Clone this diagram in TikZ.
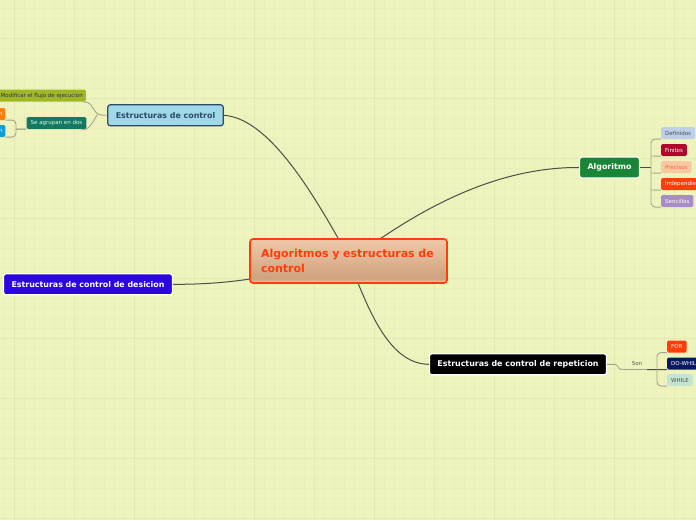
\documentclass[tikz,border=0pt]{standalone}
\usepackage{fontspec}
\setmainfont{DejaVu Sans}
\usepackage{tikz}
\definecolor{paper}{HTML}{EFF3BE}
\definecolor{gridline}{HTML}{EAEEB8}
\definecolor{gridmajor}{HTML}{E4E8B4}
\definecolor{wire}{HTML}{4A4F48}
\definecolor{twig}{HTML}{A3A68C}
\definecolor{rootlight}{HTML}{F0C8A8}
\definecolor{rootdark}{HTML}{CFA27E}
\definecolor{rootred}{HTML}{FF3D0A}
\definecolor{ctrlblue}{HTML}{9FD8E8}
\definecolor{ctrlink}{HTML}{2C4A66}
\pgfdeclareverticalshading{rootshade}{100bp}{color(0bp)=(rootlight); color(25bp)=(rootlight);
  color(30bp)=(rootdark); color(75bp)=(rootlight); color(100bp)=(rootlight)}

\begin{document}
\begin{tikzpicture}
  [x=1pt,y=-1pt,
   main/.style={rounded corners=2.5pt,draw=white,line width=1.2pt,inner xsep=8pt,
     inner ysep=0pt,minimum height=21pt,text=white,font=\fontsize{7.9}{10}\selectfont\bfseries},
   leaf/.style={rounded corners=1.5pt,inner xsep=4pt,inner ysep=0pt,minimum height=12pt,
     anchor=west,font=\fontsize{5.5}{6}\selectfont},
   wired/.style={wire,line width=1pt},
   twiggy/.style={twig,line width=.9pt,rounded corners=4pt},
  ]
  \useasboundingbox (0,0) rectangle (696,520);
  \fill[paper] (0,0) rectangle (696,520);
  \foreach \gx in {4,14,...,694} \draw[gridline,line width=.7pt] (\gx,0) -- (\gx,520);
  \foreach \gy in {8,18,...,518} \draw[gridline,line width=.7pt] (0,\gy) -- (696,\gy);
  \foreach \gx in {14,74,...,674} \draw[gridmajor,line width=1pt] (\gx,0) -- (\gx,520);
  \foreach \gy in {38,98,...,518} \draw[gridmajor,line width=1pt] (0,\gy) -- (696,\gy);

  % ramas
  \coordinate (rootnw) at (338,238);
  \coordinate (rootne) at (380,239);
  \coordinate (rootsw) at (250,279);
  \coordinate (rootse) at (358,283);
  \node[main,fill=ctrlblue,draw=ctrlink,text=ctrlink] (control) at (165.5,115.3) {Estructuras de control};
  \node[main,fill={rgb,255:red,24;green,134;blue,54}] (algo) at (609.5,167.5) {Algoritmo};
  \node[main,fill={rgb,255:red,44;green,6;blue,220}] (desicion) at (88,284.3) {Estructuras de control de desicion};
  \node[main,fill=black] (repet) at (518,364.3) {Estructuras de control de repeticion};

  \draw[wired] (control.east) .. controls (265,118) and (305,180) .. (rootnw);
  \draw[wired] (algo.west) .. controls (500,167) and (430,205) .. (rootne);
  \draw[wired] (desicion.east) .. controls (205,284.5) and (230,282) .. (rootsw);
  \draw[wired] (repet.west) .. controls (395,364) and (375,325) .. (rootse);

  \node[draw=rootred,line width=1.6pt,rounded corners=3pt,minimum width=197pt,minimum height=44pt,
    inner xsep=0pt,shading=rootshade,text=rootred,font=\fontsize{11}{14.5}\selectfont\bfseries,
    align=left,text width=175pt] (root) at (348.5,261) {Algoritmos y estructuras de control};

  % izquierda
  \node[leaf,inner xsep=3pt,fill={rgb,255:red,160;green,184;blue,40},anchor=east,text=black!80] (flujo) at (86,95.5) {Modificar el flujo de ejecucion};
  \node[leaf,minimum width=59.5pt,fill={rgb,255:red,20;green,120;blue,100},anchor=east,text=white!85!green] (grupos) at (86.5,123) {Se agrupan en dos};
  \node[leaf,inner xsep=3pt,fill={rgb,255:red,248;green,128;blue,16},anchor=east,text=white] (sel) at (5.5,114) {n};
  \node[leaf,inner xsep=3pt,fill={rgb,255:red,16;green,160;blue,212},anchor=east,text=white] (rep) at (5.5,131) {n};

  % derecha
  \node[leaf,fill={rgb,255:red,190;green,208;blue,232},text=black!70] (defi) at (661,133) {Definidos};
  \node[leaf,fill={rgb,255:red,176;green,8;blue,44},text=white] (fini) at (661,150) {Finitos};
  \node[leaf,fill={rgb,255:red,250;green,200;blue,160},text=rootred!80] (prec) at (661,167) {Precisos};
  \node[leaf,fill=rootred,text=white] (inde) at (661,184) {Independientes};
  \node[leaf,fill={rgb,255:red,168;green,140;blue,200},text=white] (senc) at (661,201) {Sencillos};

  \node[leaf,fill=rootred,text=white] (fornode) at (667,346.5) {FOR};
  \node[leaf,fill={rgb,255:red,8;green,24;blue,96},text=white] (dowhile) at (667,363.5) {DO-WHILE};
  \node[leaf,fill={rgb,255:red,196;green,230;blue,208},text=black!70] (whilenode) at (667,380) {WHILE};

  \node[font=\fontsize{5.5}{6}\selectfont,text=black!65] (son) at (637,363) {Son};

  \coordinate (ctrlfork) at (97,115);
  \draw[twiggy] (control.west) -- (ctrlfork) .. controls (93,107) .. (88,101.5) -- (flujo.south east);
  \draw[twiggy] (ctrlfork) .. controls (93,122) .. (88,129) -- (grupos.south east);
  \draw[wired,twig!70!wire] (grupos.south west) -- (16,129);
  \draw[twiggy] (sel.south east) -- (16,120) -- (16,137) -- (rep.south east);

  \draw[wired] (algo.east) -- (651,167.5);
  \draw[twiggy] (defi.south west) -- (651,139) -- (651,207) -- (senc.south west);
  \draw[twiggy] (fini.south west) -- (651,156);
  \draw[twiggy] (prec.south west) -- (651,173);
  \draw[twiggy] (inde.south west) -- (651,190);

  \draw[twiggy,rounded corners=2pt] (repet.east) -- (617,364.3) -- (619,369.5) -- (647,369.5);
  \draw[wired] (647,369.5) -- (dowhile.south west);
  \draw[twiggy] (fornode.south west) -- (657,352.5) -- (657,386) -- (whilenode.south west);
\end{tikzpicture}
\end{document}
